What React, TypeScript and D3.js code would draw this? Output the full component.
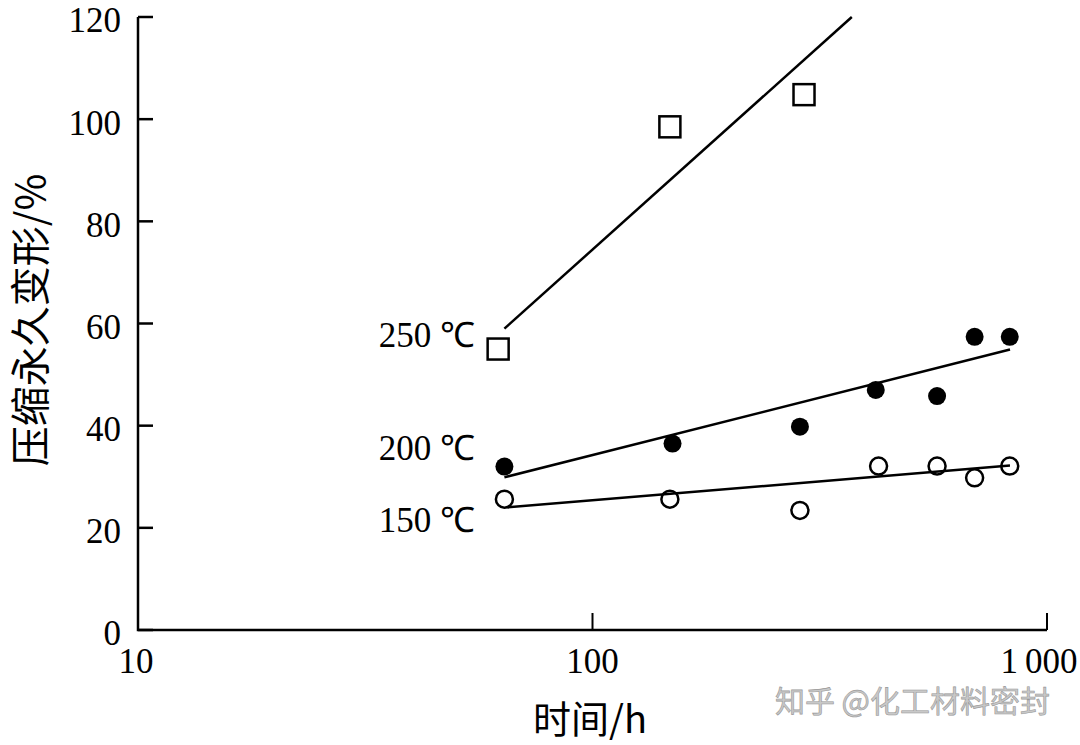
import React from "react";
import * as d3 from "d3";

const xTicks = [10, 100, 1000];
const xTickLabels = ["10", "100", "1\u2009000"];
const yTicks = [0, 20, 40, 60, 80, 100, 120];

// 250 ℃ (open squares)
const t250 = [62, 148, 292];
const v250 = [55, 98.5, 104.8];
const fit250 = [
  { t: 64, v: 59 },
  { t: 372, v: 120 },
];

// 200 ℃ (filled circles)
const t200 = [64, 150, 286, 420, 573, 693, 828];
const v200 = [32.0, 36.5, 39.8, 47.0, 45.8, 57.4, 57.4];
const fit200 = [
  { t: 64, v: 29.9 },
  { t: 829, v: 54.9 },
];

// 150 ℃ (open circles)
const t150 = [64, 148, 286, 426, 573, 693, 828];
const v150 = [25.6, 25.6, 23.4, 32.1, 32.1, 29.8, 32.1];
const fit150 = [
  { t: 65, v: 24.0 },
  { t: 829, v: 32.2 },
];

const seriesLabels = ["250 \u2103", "200 \u2103", "150 \u2103"];

export default function App() {
  const W = 1080;
  const H = 745;
  const x = d3.scaleLog().domain([10, 1000]).range([138, 1047]);
  const y = d3.scaleLinear().domain([0, 120]).range([630, 17]);
  const line = d3
    .line<{ t: number; v: number }>()
    .x((d) => x(d.t))
    .y((d) => y(d.v));
  const serif = "'Liberation Serif', 'Times New Roman', serif";
  const cjk = "'Noto Sans CJK SC', sans-serif";
  const sq = 21;

  return (
    <svg
      width={W}
      height={H}
      style={{ position: "absolute", left: 0, top: 0, background: "#fff" }}
    >
      <rect width={W} height={H} fill="#fff" />
      {/* axes */}
      <path
        d={`M${x(10)},${y(120)}V${y(0)}H${x(1000)}`}
        fill="none"
        stroke="#000"
        strokeWidth={2.5}
      />
      {yTicks.map((v) => (
        <g key={"y" + v}>
          <line x1={x(10)} x2={x(10) + 15} y1={y(v)} y2={y(v)} stroke="#000" strokeWidth={2.5} />
          <text
            x={121}
            y={y(v)}
            dy="0.44em"
            textAnchor="end"
            fontFamily={serif}
            fontSize={35}
          >
            {v}
          </text>
        </g>
      ))}
      {xTicks.map((t, i) => (
        <g key={"x" + t}>
          {i > 0 && (
            <line x1={x(t)} x2={x(t)} y1={y(0)} y2={y(0) - 17} stroke="#000" strokeWidth={2} />
          )}
          <text
            x={x(t) - (i === 0 ? 2 : i === 2 ? 8 : 0)}
            y={673}
            textAnchor="middle"
            fontFamily={serif}
            fontSize={35}
          >
            {xTickLabels[i]}
          </text>
        </g>
      ))}
      {/* axis titles */}
      <text
        transform={`translate(45,320) rotate(-90)`}
        textAnchor="middle"
        fontFamily={cjk}
        fontSize={40}
      >
        压缩永久变形/%
      </text>
      <text x={590} y={733} textAnchor="middle" fontFamily={cjk} fontSize={38}>
        时间/h
      </text>

      {/* fit lines */}
      {[fit250, fit200, fit150].map((f, i) => (
        <path key={"f" + i} d={line(f) || ""} fill="none" stroke="#000" strokeWidth={2.5} />
      ))}

      {/* 250 squares */}
      {t250.map((t, i) => (
        <rect
          key={"s" + i}
          x={x(t) - sq / 2}
          y={y(v250[i]) - sq / 2}
          width={sq}
          height={sq}
          fill="#fff"
          stroke="#000"
          strokeWidth={2.5}
        />
      ))}
      {/* 200 filled */}
      {t200.map((t, i) => (
        <circle key={"c2" + i} cx={x(t)} cy={y(v200[i])} r={9} fill="#000" />
      ))}
      {/* 150 open */}
      {t150.map((t, i) => (
        <circle
          key={"c1" + i}
          cx={x(t)}
          cy={y(v150[i])}
          r={8.5}
          fill="none"
          stroke="#000"
          strokeWidth={2.5}
        />
      ))}

      {/* series labels */}
      <text x={475} y={347} textAnchor="end" fontFamily={serif} fontSize={35}>
        {seriesLabels[0]}
      </text>
      <text x={475} y={460} textAnchor="end" fontFamily={serif} fontSize={35}>
        {seriesLabels[1]}
      </text>
      <text x={475} y={532} textAnchor="end" fontFamily={serif} fontSize={35}>
        {seriesLabels[2]}
      </text>

      {/* watermark */}
      <text
        x={1050}
        y={712}
        textAnchor="end"
        fontFamily={cjk}
        fontSize={30}
        fill="#c8c8c8"
        stroke="#999"
        strokeWidth={0.6}
      >
        知乎 @化工材料密封
      </text>
    </svg>
  );
}
